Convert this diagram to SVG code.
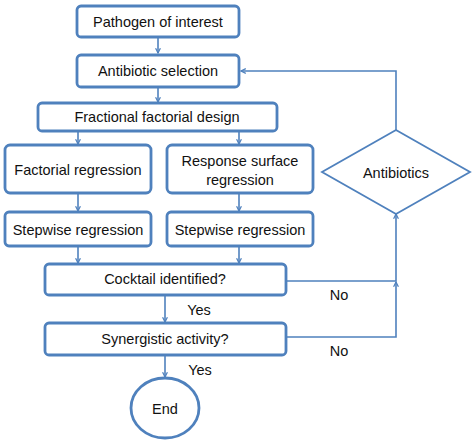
<svg xmlns="http://www.w3.org/2000/svg" width="474" height="444" viewBox="0 0 474 444">
<style>
.box{fill:#fff;stroke:#4f81bd;stroke-width:2.8}
.t{font-family:"Liberation Sans",Arial,sans-serif;font-size:14.5px;fill:#111;text-anchor:middle;dominant-baseline:central}
.c{fill:none;stroke:#4f81bd;stroke-width:1.6;marker-end:url(#ah)}
</style>
<defs>
<marker id="ah" viewBox="0 0 10 10" refX="9" refY="5" markerWidth="6" markerHeight="6" markerUnits="userSpaceOnUse" orient="auto">
<path d="M1,1 L9,5 L1,9" fill="none" stroke="#4f81bd" stroke-width="2"/>
</marker>
</defs>
<rect width="474" height="444" fill="#fff"/>
<g id="connectors">
<path class="c" d="M158,37 V53"/>
<path class="c" d="M158,87 V102"/>
<path class="c" d="M396,130 V71 H241"/>
<path class="c" d="M78,131 V144"/>
<path class="c" d="M239,131 V144"/>
<path class="c" d="M78,193 V211"/>
<path class="c" d="M239,193 V211"/>
<path class="c" d="M78,246 V263"/>
<path class="c" d="M239,246 V263"/>
<path class="c" d="M286,281 H396 V214"/>
<path class="c" d="M286,337 H396 V282"/>
<path class="c" d="M165,295 V322"/>
<path class="c" d="M165,355 V377"/>
</g>
<g id="n1"><rect class="box" x="77" y="6" width="162" height="31" rx="4"/><text class="t" x="158" y="22">Pathogen of interest</text></g>
<g id="n2"><rect class="box" x="77" y="55" width="162" height="32" rx="4"/><text class="t" x="158" y="71">Antibiotic selection</text></g>
<g id="n3"><rect class="box" x="38" y="103" width="239" height="28" rx="4"/><text class="t" x="157" y="117">Fractional factorial design</text></g>
<g id="n4"><rect class="box" x="5" y="145" width="146" height="48" rx="5"/><text class="t" x="78" y="170">Factorial regression</text></g>
<g id="n5"><rect class="box" x="167" y="145" width="146" height="48" rx="5"/><text class="t" x="240" y="161">Response surface</text><text class="t" x="240" y="180">regression</text></g>
<g id="n6"><polygon points="396,130 470,172 396,214 322,172" fill="#fff" stroke="#4f81bd" stroke-width="1.8"/><text class="t" x="396" y="173">Antibiotics</text></g>
<g id="n7"><rect class="box" x="5" y="212" width="146" height="34" rx="4"/><text class="t" x="78" y="230">Stepwise regression</text></g>
<g id="n8"><rect class="box" x="167" y="212" width="146" height="34" rx="4"/><text class="t" x="240" y="230">Stepwise regression</text></g>
<g id="n9"><rect class="box" x="45" y="264" width="241" height="31" rx="4"/><text class="t" x="165" y="279">Cocktail identified?</text></g>
<g id="n10"><rect class="box" x="45" y="323" width="241" height="32" rx="4"/><text class="t" x="165" y="339">Synergistic activity?</text></g>
<g id="n11"><ellipse cx="165" cy="408" rx="34" ry="30" fill="#fff" stroke="#4f81bd" stroke-width="2.8"/><text class="t" x="165" y="409">End</text></g>
<g id="labels">
<text class="t" x="339" y="295">No</text>
<text class="t" x="339" y="351">No</text>
<text class="t" x="199" y="310">Yes</text>
<text class="t" x="200" y="370">Yes</text>
</g>
</svg>
